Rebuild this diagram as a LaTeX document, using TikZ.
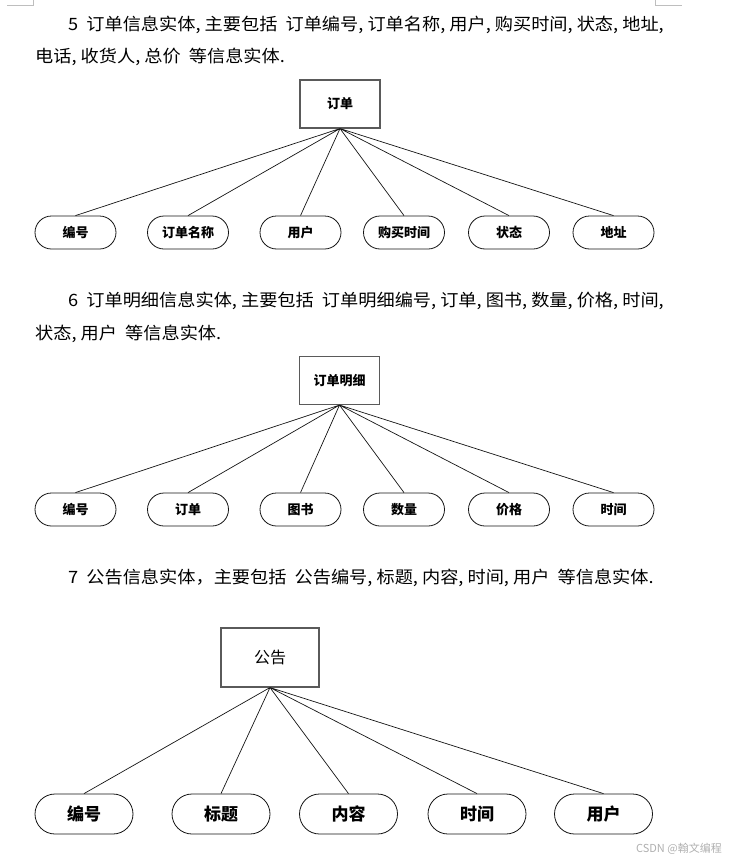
\documentclass[tikz,border=0pt]{standalone}
\usepackage{fontspec}
\setmainfont{Noto Sans CJK SC}
\newfontfamily\bodyfont{Noto Sans CJK SC}[FakeStretch=1.07]
\usepackage{tikz}
\usetikzlibrary{positioning}
\usepackage{xcolor}
\definecolor{colline}{RGB}{20,20,20}
\definecolor{colbox}{RGB}{90,90,90}
\definecolor{colmark}{RGB}{190,190,190}
\definecolor{colwm}{RGB}{175,175,175}

\begin{document}
\begin{tikzpicture}[x=1pt, y=-1pt,
  entity/.style={rectangle, draw=colbox, line width=1.1pt,
                 minimum width=80pt, minimum height=48pt, inner sep=0pt,
                 font=\fontsize{13}{13}\selectfont\bfseries},
  attr/.style={rectangle, rounded corners=16.5pt, draw=colline, line width=0.8pt,
               minimum width=81pt, minimum height=33pt, inner sep=0pt,
               font=\fontsize{13}{13}\selectfont\bfseries},
  bigentity/.style={entity, minimum width=98pt, minimum height=59pt,
                    font=\fontsize{16}{16}\selectfont},
  bigattr/.style={attr, rounded corners=20pt, minimum width=98pt,
                  minimum height=40pt, font=\fontsize{17}{17}\selectfont\bfseries},
  link/.style={draw=colline, line width=0.7pt},
  para/.style={anchor=west, inner sep=0pt, font=\bodyfont\fontsize{17}{17}\selectfont}
]
\useasboundingbox (0,0) rectangle (732,862);

% page corner marks
\draw[colmark, line width=0.8pt] (7,5) -- (33,5) -- (33,0);
\draw[colmark, line width=0.8pt] (655,0) -- (655,5) -- (682,5);

% text lines
\node[para] (T1) at (68,25)
    {5\ \ 订单信息实体, 主要包括\ \ 订单编号, 订单名称, 用户, 购买时间, 状态, 地址,};
\node[para] (T2) at (35,57) {电话, 收货人, 总价\ \ 等信息实体.};
\node[para] (T3) at (68,301)
    {6\ \ 订单明细信息实体, 主要包括\ \ 订单明细编号, 订单, 图书, 数量, 价格, 时间,};
\node[para] (T4) at (35,334) {状态, 用户\ \ 等信息实体.};
\node[para] (T5) at (68,578)
    {7\ \ 公告信息实体，主要包括\ \ 公告编号, 标题, 内容, 时间, 用户\ \ 等信息实体.};

% order entity
\node[entity] (O) at (340,104) {订单};
\node[attr] (O1) at (75.5,232.5) {编号};
\node[attr] (O2) at (188,232.5) {订单名称};
\node[attr] (O3) at (300.5,232.5) {用户};
\node[attr] (O4) at (404,232.5) {购买时间};
\node[attr] (O5) at (509,232.5) {状态};
\node[attr] (O6) at (613.5,232.5) {地址};
\draw[link] (O.south) -- (O1.north) (O.south) -- (O2.north)
            (O.south) -- (O3.north) (O.south) -- (O4.north)
            (O.south) -- (O5.north) (O.south) -- (O6.north);

% order detail entity
\node[entity] (D) at (339.5,380.5) {订单明细};
\node[attr] (D1) at (75.5,509.5) {编号};
\node[attr] (D2) at (188,509.5) {订单};
\node[attr] (D3) at (300.5,509.5) {图书};
\node[attr] (D4) at (404,509.5) {数量};
\node[attr] (D5) at (509,509.5) {价格};
\node[attr] (D6) at (613.5,509.5) {时间};
\draw[link] (D.south) -- (D1.north) (D.south) -- (D2.north)
            (D.south) -- (D3.north) (D.south) -- (D4.north)
            (D.south) -- (D5.north) (D.south) -- (D6.north);

% notice entity
\node[bigentity] (N) at (270,657.5) {公告};
\node[bigattr] (N1) at (84,814) {编号};
\node[bigattr] (N2) at (221,814) {标题};
\node[bigattr] (N3) at (348.5,814) {内容};
\node[bigattr] (N4) at (477,814) {时间};
\node[bigattr] (N5) at (603.5,814) {用户};
\draw[link] (N.south) -- (N1.north) (N.south) -- (N2.north)
            (N.south) -- (N3.north) (N.south) -- (N4.north)
            (N.south) -- (N5.north);

% watermark
\node[anchor=east, inner sep=0pt, colwm, font=\fontsize{11}{11}\selectfont]
    (WM) at (722,849) {CSDN @翰文编程};
\end{tikzpicture}
\end{document}
